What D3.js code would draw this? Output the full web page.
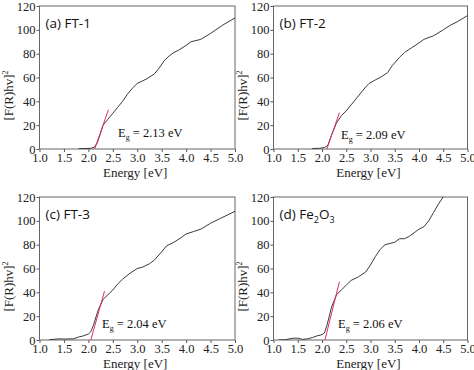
<!DOCTYPE html>
<html>
<head>
<meta charset="utf-8">
<script src="https://cdn.jsdelivr.net/npm/d3@7"></script>
<style>
  body { margin: 0; background: #fff; }
  svg { display: block; }
</style>
</head>
<body>
<div id="chart"></div>
<script>
// ---- data ----
const xTicks = [1.0, 1.5, 2.0, 2.5, 3.0, 3.5, 4.0, 4.5, 5.0]
const yTicks = [0, 20, 40, 60, 80, 100, 120]

const ft1 = [[1.8,0.3],[1.95,0.4],[2.05,0.6],[2.12,1.5],[2.18,5],[2.24,12],[2.3,20],[2.4,25],[2.5,30],[2.6,35],[2.7,40],[2.8,46],[2.9,51],[3.0,55],[3.1,57],[3.2,59],[3.35,63],[3.45,68],[3.55,74],[3.65,78],[3.75,81],[3.85,83],[4.0,87],[4.1,90],[4.3,92],[4.5,97],[4.75,104],[5.0,110]]
const ft2 = [[1.8,0.4],[1.95,0.6],[2.05,1.2],[2.12,3],[2.2,12],[2.3,22],[2.4,28],[2.5,32],[2.6,37],[2.7,42],[2.8,47],[2.9,52],[2.97,55],[3.1,58],[3.2,60],[3.35,64],[3.45,70],[3.6,77],[3.7,81],[3.85,85],[4.0,89],[4.1,92],[4.3,95],[4.5,100],[4.65,104],[4.8,107],[5.0,112]]
const ft3 = [[1.2,0.3],[1.3,0.6],[1.4,1],[1.5,0.8],[1.7,1],[1.8,2.5],[1.9,3.5],[2.0,5],[2.05,7],[2.1,12],[2.2,25],[2.3,34],[2.4,38],[2.5,42],[2.6,47],[2.7,51],[2.85,56],[3.0,60],[3.1,61],[3.25,64],[3.35,67],[3.5,74],[3.6,79],[3.75,82],[3.9,86],[4.0,89],[4.15,91],[4.3,93],[4.5,98],[4.7,102],[5.0,108]]
const fe2o3 = [[1.1,0],[1.25,0.3],[1.4,1.5],[1.5,1.5],[1.6,0.5],[1.7,1],[1.8,2],[1.9,3.5],[2.0,4.5],[2.05,6],[2.1,12],[2.2,28],[2.3,38],[2.4,42],[2.5,46],[2.6,50],[2.75,53],[2.9,57],[3.0,63],[3.1,70],[3.2,76],[3.3,80],[3.4,81],[3.5,82],[3.6,85],[3.7,85],[3.8,87],[3.9,90],[4.0,93],[4.1,95],[4.2,100],[4.3,107],[4.4,114],[4.5,120]]

// tangent lines: [x0, y0], [x1, y1]
const fitA = [[2.13,0],[2.41,33]]
const fitB = [[2.10,0],[2.36,30.5]]
const fitC = [[2.05,0],[2.33,41]]
const fitD = [[2.06,0],[2.36,49]]

const panels = [
  { tag: "(a) FT-", sub: null, tail: "1", eg: "2.13", data: ft1, fit: fitA },
  { tag: "(b) FT-", sub: null, tail: "2", eg: "2.09", data: ft2, fit: fitB },
  { tag: "(c) FT-", sub: null, tail: "3", eg: "2.04", data: ft3, fit: fitC },
  { tag: "(d) Fe", sub: "2", tail: "O", sub2: "3", eg: "2.06", data: fe2o3, fit: fitD },
]

// ---- layout ----
const W = 474, H = 370
const boxes = [
  { left: 39.5, top: 6, right: 235, bottom: 149, egX: 118, egY: 137 },
  { left: 273.5, top: 6, right: 467.5, bottom: 149, egX: 341, egY: 139 },
  { left: 39.5, top: 197, right: 235, bottom: 340, egX: 102, egY: 328 },
  { left: 273.5, top: 197, right: 467.5, bottom: 340, egX: 338, egY: 328 },
]

const serif = "'Liberation Serif', 'Times New Roman', serif"
const sans = "'Open Sans', 'Liberation Sans', sans-serif"

const svg = d3.select("#chart").append("svg")
  .attr("width", W).attr("height", H)

panels.forEach((p, i) => {
  const b = boxes[i]
  const x = d3.scaleLinear().domain([1, 5]).range([b.left, b.right])
  const y = d3.scaleLinear().domain([0, 120]).range([b.bottom, b.top])

  const g = svg.append("g")

  // clip so the Fe2O3 curve stops at the frame
  const clipId = "clip" + i
  g.append("clipPath").attr("id", clipId)
    .append("rect")
    .attr("x", b.left).attr("y", b.top)
    .attr("width", b.right - b.left).attr("height", b.bottom - b.top)

  // axes
  const xAxis = g.append("g")
    .attr("transform", "translate(0," + b.bottom + ")")
    .call(d3.axisBottom(x).tickValues(xTicks).tickFormat(d3.format(".1f")).tickSize(3).tickPadding(1))
  const yAxis = g.append("g")
    .attr("transform", "translate(" + b.left + ",0)")
    .call(d3.axisLeft(y).tickValues(yTicks).tickSize(3).tickPadding(1))

  ;[xAxis, yAxis].forEach(a => {
    a.select(".domain").remove()
    a.selectAll("line").attr("stroke", "#555")
    a.selectAll("text")
      .attr("fill", "#222")
      .style("font-family", serif)
      .style("font-size", "12.5px")
  })

  // frame
  g.append("rect")
    .attr("x", b.left).attr("y", b.top)
    .attr("width", b.right - b.left).attr("height", b.bottom - b.top)
    .attr("fill", "none").attr("stroke", "#666").attr("stroke-width", 1)

  // curve
  const line = d3.line().x(d => x(d[0])).y(d => y(d[1]))
  g.append("path")
    .datum(p.data)
    .attr("clip-path", "url(#" + clipId + ")")
    .attr("fill", "none")
    .attr("stroke", "#3a3a3a")
    .attr("stroke-width", 1)
    .attr("d", line)

  // tangent
  g.append("path")
    .datum(p.fit)
    .attr("fill", "none")
    .attr("stroke", "#e0305a")
    .attr("stroke-width", 1)
    .attr("d", line)

  // panel tag
  const tag = g.append("text")
    .attr("x", b.left + 6).attr("y", b.top + 22)
    .style("font-family", sans)
    .style("font-size", "13.5px")
    .attr("fill", "#111")
  tag.append("tspan").text(p.tag)
  if (p.sub) {
    tag.append("tspan").attr("dy", 4).style("font-size", "9px").text(p.sub)
    tag.append("tspan").attr("dy", -4).text(p.tail)
    tag.append("tspan").attr("dy", 4).style("font-size", "9px").text(p.sub2)
  } else {
    tag.append("tspan").text(p.tail)
  }

  // band-gap label
  const eg = g.append("text")
    .attr("x", b.egX).attr("y", b.egY)
    .style("font-family", serif)
    .style("font-size", "12.5px")
    .attr("fill", "#111")
  eg.append("tspan").text("E")
  eg.append("tspan").attr("dy", 3).style("font-size", "8px").text("g")
  eg.append("tspan").attr("dy", -3).text(" = " + p.eg + " eV")

  // x title
  g.append("text")
    .attr("x", (b.left + b.right) / 2 - 2).attr("y", b.bottom + 28)
    .attr("text-anchor", "middle")
    .style("font-family", serif)
    .style("font-size", "13px")
    .attr("fill", "#222")
    .text("Energy [eV]")

  // y title
  const yt = g.append("text")
    .attr("transform", "translate(" + (b.left - 27) + "," + ((b.top + b.bottom) / 2 + 18) + ") rotate(-90)")
    .attr("text-anchor", "middle")
    .style("font-family", serif)
    .style("font-size", "13px")
    .attr("fill", "#222")
  yt.append("tspan").text("[F(R)hv]")
  yt.append("tspan").attr("dy", -5).style("font-size", "8px").text("2")
})
</script>
</body>
</html>
